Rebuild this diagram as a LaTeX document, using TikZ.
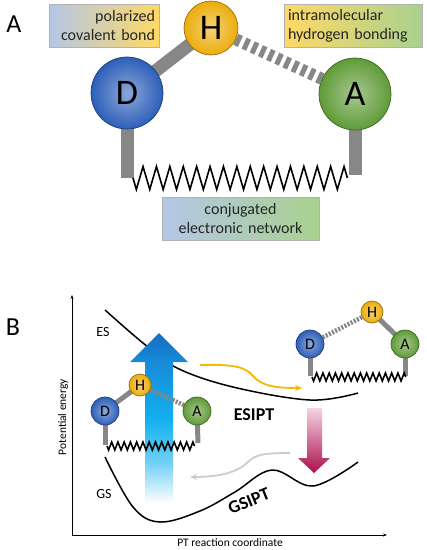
\documentclass[tikz,border=0pt]{standalone}
\usepackage{fontspec}
\setmainfont{Carlito}
\usetikzlibrary{arrows.meta}
\pgfdeclarelayer{curves}
\pgfdeclarelayer{arrowlayer}
\pgfdeclarelayer{bondlayer}
\pgfsetlayers{curves,arrowlayer,bondlayer,main}
\definecolor{dcol}{RGB}{45,95,185}
\definecolor{hcol}{RGB}{236,172,12}
\definecolor{acol}{RGB}{95,155,55}
\definecolor{boxblue}{RGB}{180,199,231}
\definecolor{boxyellow}{RGB}{255,217,102}
\definecolor{boxgreen}{RGB}{169,209,142}
\definecolor{stickgray}{RGB}{135,135,135}
\definecolor{esblue}{RGB}{22,108,192}
\definecolor{esmid}{RGB}{22,140,216}
\definecolor{escyan}{RGB}{18,176,240}
\definecolor{eslight}{RGB}{120,210,245}
\definecolor{gsred}{RGB}{172,14,78}
\definecolor{gspink}{RGB}{246,212,228}
\definecolor{ptyellow}{RGB}{245,185,0}
\newcommand{\fs}[2]{\fontsize{#1}{#2}\selectfont}
\begin{document}
\begin{tikzpicture}[x=1pt,y=-1pt,
  atom/.style={circle, draw=#1!65!black, line width=0.7pt, inner color=#1!55!white, outer color=#1, inner sep=0pt},
  bigatom/.style={atom=#1, minimum size=72pt, font=\fs{36}{36}},
  smallatom/.style={atom=#1, minimum size=28pt, font=\fs{16}{16}},
  stick/.style={stickgray, line width=13pt},
  hbond/.style={stickgray, line width=12pt, dash pattern=on 5pt off 4pt},
  thinstick/.style={stickgray, line width=5pt},
  thinhbond/.style={stickgray, line width=4.5pt, dash pattern=on 2pt off 1.5pt},
  chain/.style={line width=1.6pt, line join=miter},
  infobox/.style={draw=gray!60, line width=0.6pt, minimum height=43pt, inner xsep=4pt, font=\fs{16}{19}, text=black!85},
  axis/.style={line width=0.7pt, -{Stealth[length=4pt,width=3pt]}},
  pes/.style={line width=1.5pt, smooth, tension=0.6}]
\useasboundingbox (0,0) rectangle (427,550);

% panel A
\node[font=\fs{26}{26}] (labA) at (14,24) {A};
\node[infobox, left color=boxblue, right color=boxyellow, text width=102pt, align=right] (covbox) at (104,25.5) {polarized\\covalent bond};
\node[infobox, left color=boxyellow, right color=boxgreen, text width=130pt, align=left] (hbbox) at (353,25.5) {intramolecular\\hydrogen bonding};
\node[infobox, left color=boxblue, right color=boxgreen, text width=149pt, align=center] (netbox) at (240.5,218.5) {conjugated\\electronic network};
\node[bigatom=hcol, minimum size=54pt] (Hbig) at (211,28) {H};
\node[bigatom=dcol] (Dbig) at (127,93) {D};
\node[bigatom=acol] (Abig) at (355,94) {A};
\coordinate (Dfoot) at (127,178);
\coordinate (Afoot) at (355,175);
\coordinate (zl) at (133,178);
\begin{pgfonlayer}{bondlayer}
  \draw[stick] (Dbig.center) -- (Dfoot);
  \draw[stick] (Abig.center) -- (Afoot);
  \draw[stick] (Dbig.center) -- (Hbig.center);
  \draw[hbond] (Hbig) -- (Abig);
\end{pgfonlayer}
\draw[chain] (zl) \foreach \k in {1,...,16}{ -- ++(3.35,11.5) -- ++(6.7,-23) -- ++(3.35,11.5)};

% panel B
\node[font=\fs{26}{26}] (labB) at (13,327) {B};
\coordinate (orig) at (72,535);
\draw[axis] (orig) -- (72,295);
\draw[axis] (orig) -- (387,535);
\node[font=\fs{11.5}{11.5}, rotate=90] (ylab) at (63,417) {Potential energy};
\node[font=\fs{11.5}{11.5}] (xlab) at (230,543) {PT reaction coordinate};
\begin{pgfonlayer}{curves}
  \draw[pes] plot coordinates {(105,310) (143,343) (177,368) (233,387) (310,400) (358,393)};
  \draw[pes] plot coordinates {(105,457) (133,507) (160,522) (200,511) (235,492) (272,470) (313,486) (358,462)};
\end{pgfonlayer}
\node[font=\fs{14}{14}] (es) at (103,332) {ES};
\node[font=\fs{14}{14}] (gs) at (104,494) {GS};
\node[font=\bfseries\fs{18}{18}] (esipt) at (254,415) {ESIPT};
\node[font=\bfseries\fs{18}{18}, rotate=22] (gsipt) at (249,501) {GSIPT};

\begin{pgfonlayer}{arrowlayer}
  \shade[top color=esblue, bottom color=esmid]
    (130,362) -- (159,333) -- (188,362) -- cycle;
  \shade[top color=esmid, bottom color=escyan]
    (145,362) rectangle (173,420);
  \shade[top color=escyan, bottom color=eslight]
    (145,419.5) rectangle (173,465);
  \shade[top color=eslight, bottom color=white]
    (145,464.5) rectangle (173,503);
  \shade[top color=gspink, bottom color=gsred]
    (307,408) -- (307,458) -- (298,458) -- (314,473) -- (330,458) -- (322,458) -- (322,408) -- cycle;
\end{pgfonlayer}
\draw[ptyellow, line width=1.8pt, -{Stealth[length=7pt,width=6pt]}]
  (200,365) .. controls (238,364) and (246,368) .. (253,376) .. controls (262,386) and (275,388) .. (302,388);
\draw[gray!40, line width=1.8pt, -{Stealth[length=7pt,width=6pt]}]
  (290,453) .. controls (262,453) and (255,455) .. (248,462) .. controls (238,472) and (220,477) .. (190,477);

% left molecule
\node[smallatom=dcol] (Dl) at (105,411) {D};
\node[smallatom=hcol, minimum size=22pt] (Hl) at (140,385) {H};
\node[smallatom=acol] (Al) at (197,411) {A};
\coordinate (Dlfoot) at (105,445);
\coordinate (Alfoot) at (198,443);
\begin{pgfonlayer}{bondlayer}
  \draw[thinstick] (Dl.center) -- (Dlfoot);
  \draw[thinstick] (Al.center) -- (Alfoot);
  \draw[thinstick] (Dl.center) -- (Hl.center);
  \draw[thinhbond] (Hl) -- (Al);
\end{pgfonlayer}
\draw[chain] (107,446) \foreach \k in {1,...,14}{ -- ++(1.56,4) -- ++(3.13,-8) -- ++(1.56,4)};

% right molecule
\node[smallatom=dcol] (Dr) at (310,344) {D};
\node[smallatom=hcol, minimum size=22pt] (Hr) at (372,312) {H};
\node[smallatom=acol] (Ar) at (405,344) {A};
\coordinate (Drfoot) at (310,376);
\coordinate (Arfoot) at (405,376);
\begin{pgfonlayer}{bondlayer}
  \draw[thinstick] (Dr.center) -- (Drfoot);
  \draw[thinstick] (Ar.center) -- (Arfoot);
  \draw[thinstick] (Hr.center) -- (Ar.center);
  \draw[thinhbond] (Dr) -- (Hr);
\end{pgfonlayer}
\draw[chain] (312,377) \foreach \k in {1,...,15}{ -- ++(1.56,4) -- ++(3.13,-8) -- ++(1.56,4)};
\end{tikzpicture}
\end{document}
